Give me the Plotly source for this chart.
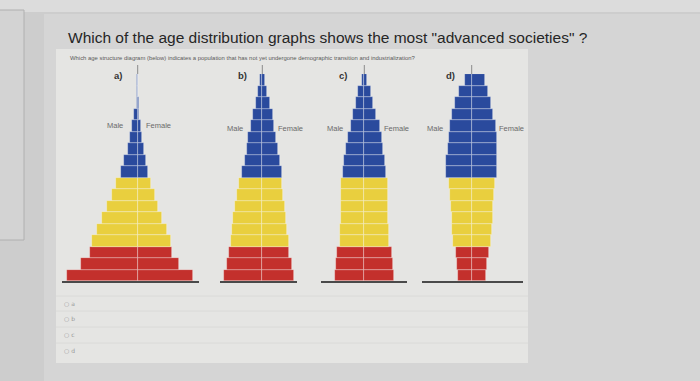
import plotly.graph_objects as go

W, H = 700, 381

age_groups = ["0-4", "5-9", "10-14", "15-19", "20-24", "25-29", "30-34", "35-39", "40-44",
              "45-49", "50-54", "55-59", "60-64", "65-69", "70-74", "75-79", "80-84", "85+"]
# colour band per age group: 0 = young (red), 1 = working (yellow), 2 = old (blue)
bands = [0, 0, 0, 1, 1, 1, 1, 1, 1, 2, 2, 2, 2, 2, 2, 2, 2, 2]

male_a = [70.3, 57, 47.7, 46, 41, 36, 31, 26, 21.7, 16.7, 13.3, 10, 7.7, 5.7, 3.7, 1.2, 0.6, 0.3]
female_a = [55, 41.3, 34, 33, 29, 24, 20.7, 17.3, 13, 10.7, 8.3, 6.3, 4.7, 3, 1.7, 1.0, 0.6, 0.3]

male_b = [38.3, 35.7, 33, 31.7, 30.3, 29, 27.3, 25.7, 23, 20, 17.3, 15.7, 14, 11.7, 9, 6.3, 4, 2.3]
female_b = [31.7, 29.3, 27, 26.3, 25, 23.7, 22.7, 21, 19.3, 19.3, 17.7, 15.3, 13.7, 11.7, 10.3, 7.7, 5, 3]

male_c = [29.3, 28.3, 27, 24, 24, 23.7, 23.7, 23.3, 23, 21.7, 20, 18.3, 16, 13.7, 11, 8.7, 6, 2.7]
female_c = [29.7, 28.3, 27.3, 24.3, 24.3, 24, 24, 23.7, 23.3, 21.7, 20.7, 19, 17.3, 15.7, 11.7, 9, 6.3, 3]

male_d = [13.3, 14.3, 15.7, 18.3, 19.3, 20, 21, 21.7, 22.3, 25.7, 25.7, 23.3, 22.3, 21.7, 20, 16.7, 12.3, 6.7]
female_d = [14.3, 15.7, 17.7, 19, 20, 21, 21.7, 22, 23.3, 25.7, 25.7, 25.7, 25, 24.3, 21.7, 19, 16.7, 13.3]

panel_labels = ["a)", "b)", "c)", "d)"]
sex_labels = ["Male", "Female"]
title_text = 'Which of the age distribution graphs shows the most "advanced societies" ?'
question_text = ("Which age structure diagram (below) indicates a population that has not yet "
                 "undergone demographic transition and industrialization?")
option_labels = ["a", "b", "c", "d"]

band_colors = ["#c3302c", "#e9cf3e", "#2a4a9d"]

pyramids = [(male_a, female_a), (male_b, female_b), (male_c, female_c), (male_d, female_d)]

# layout geometry (pixels)
x_left = [62, 220, 321, 422]
x_center = [137.7, 262.3, 364.3, 471.7]
x_right = [199, 297.3, 407, 523]
y_bottom, y_top = 281, 74


def px(x):
    return x / W


def py(y):
    return 1 - y / H


fig = go.Figure()
colors = [band_colors[b] for b in bands]
for i, (m, f) in enumerate(pyramids):
    ax = "" if i == 0 else str(i + 1)
    for vals, sign in ((m, -1), (f, 1)):
        fig.add_trace(go.Bar(
            y=age_groups, x=[sign * v for v in vals], orientation="h",
            marker=dict(color=colors, line=dict(color="rgba(255,255,255,0.45)", width=0.7)),
            xaxis="x" + ax, yaxis="y" + ax, showlegend=False, hoverinfo="skip"))

layout = dict(
    width=W, height=H, margin=dict(l=0, r=0, t=0, b=0),
    paper_bgcolor="#cdcdcd", plot_bgcolor="rgba(0,0,0,0)",
    barmode="relative", bargap=0, showlegend=False,
)
for i in range(4):
    ax = "" if i == 0 else str(i + 1)
    layout["xaxis" + ax] = dict(
        domain=[px(x_left[i]), px(x_right[i])],
        range=[x_left[i] - x_center[i], x_right[i] - x_center[i]],
        showgrid=False, zeroline=False, showticklabels=False, ticks="",
        showline=True, linecolor="#4a4a4a", linewidth=1.6,
        anchor="y" + ax, fixedrange=True)
    layout["yaxis" + ax] = dict(
        domain=[py(y_bottom), py(y_top)], range=[-0.5, 17.5],
        showgrid=False, zeroline=False, showticklabels=False, ticks="",
        showline=False, anchor="x" + ax, fixedrange=True)
fig.update_layout(**layout)

shapes = [
    # top band
    dict(type="rect", xref="paper", yref="paper", x0=0, x1=1, y0=py(12), y1=1,
         fillcolor="#dcdcdc", line_width=0, layer="below"),
    # left box
    dict(type="rect", xref="paper", yref="paper", x0=px(-2), x1=px(24), y0=py(240), y1=py(10),
         fillcolor="#d3d3d3", line=dict(color="#b0b0b0", width=1), layer="below"),
    # card
    dict(type="rect", xref="paper", yref="paper", x0=px(44), x1=1, y0=0, y1=py(14),
         fillcolor="#d5d5d5", line_width=0, layer="below"),
    # image panel
    dict(type="rect", xref="paper", yref="paper", x0=px(56), x1=px(528), y0=py(363), y1=py(49),
         fillcolor="#e5e5e3", line_width=0, layer="below"),
]
for yy in [296, 311, 327, 343]:
    shapes.append(dict(type="line", xref="paper", yref="paper", x0=px(56), x1=px(528),
                       y0=py(yy), y1=py(yy), line=dict(color="#dadad8", width=1), layer="below"))
for i in range(4):
    ax = "" if i == 0 else str(i + 1)
    shapes.append(dict(type="line", xref="x" + ax, yref="paper", x0=0, x1=0,
                       y0=py(y_top), y1=py(65), line=dict(color="#8a8a8a", width=1)))
fig.update_layout(shapes=shapes)

ann = []
ann.append(dict(text=title_text, x=px(66), y=py(38), xref="paper", yref="paper",
                xanchor="left", yanchor="middle", showarrow=False,
                font=dict(family="Liberation Sans, Arial", size=15.5, color="#262626")))
ann.append(dict(text=question_text, x=px(68), y=py(58), xref="paper", yref="paper",
                xanchor="left", yanchor="middle", showarrow=False,
                font=dict(family="Liberation Sans, Arial", size=5.9, color="#5a5a5a")))
lab_pos = [(118, 75), (242, 75), (343, 75), (450, 76)]
for t, (x, y) in zip(panel_labels, lab_pos):
    ann.append(dict(text="<b>" + t + "</b>", x=px(x), y=py(y), xref="paper", yref="paper",
                    xanchor="center", yanchor="middle", showarrow=False,
                    font=dict(family="Liberation Sans, Arial", size=9.5, color="#333333")))
sex_pos = [((115, 125), (158, 125)), ((235, 128), (290, 128)),
           ((335, 128), (396, 128)), ((435, 128), (511, 128))]
for pair in sex_pos:
    for t, (x, y) in zip(sex_labels, pair):
        ann.append(dict(text=t, x=px(x), y=py(y), xref="paper", yref="paper",
                        xanchor="center", yanchor="middle", showarrow=False,
                        font=dict(family="Liberation Sans, Arial", size=7.5,
                                  color="#6a6a6a")))
for j, t in enumerate(option_labels):
    ann.append(dict(text="○ " + t, x=px(62), y=py(303 + j * 15.7), xref="paper", yref="paper",
                    xanchor="left", yanchor="middle", showarrow=False,
                    font=dict(family="DejaVu Sans", size=6, color="#9a9a9a")))
fig.update_layout(annotations=ann)

fig.write_html("out.html", config={"displayModeBar": False},
               post_script="document.body.style.margin='0px';")
